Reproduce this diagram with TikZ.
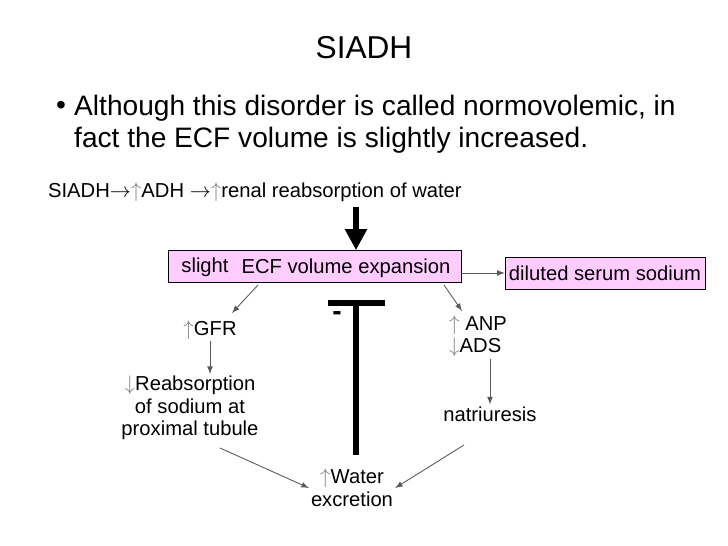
\documentclass[tikz,border=0pt]{standalone}
\usepackage{fontspec}
\setmainfont{Liberation Sans}
\usetikzlibrary{arrows.meta,positioning}
\definecolor{boxpink}{RGB}{255,204,255}
\begin{document}
\begin{tikzpicture}[x=0.02cm,y=-0.02cm, >=latex,
   txt/.style={inner sep=1pt, font=\fontsize{11.5}{12.8}\selectfont, align=center},
   pbox/.style={draw, fill=boxpink, minimum height=0.64cm, inner sep=2pt, font=\fontsize{11.5}{13}\selectfont},
   thin arrow/.style={->, gray!70!black, line width=0.5pt}
   ]
   \useasboundingbox (0,0) rectangle (728,546);
   
   \node (title) at (364,48) {\fontsize{18}{20}\selectfont SIADH};
   \node[anchor=west] (bul) at (50,108) {\fontsize{16}{19}\selectfont\textbullet};
   \node[anchor=west, align=left, font=\fontsize{16}{18.5}\selectfont] (text) at (68,124)
     {Although this disorder is called normovolemic, in\\fact the ECF volume is slightly increased.};
   \node[anchor=west, txt] (cause) at (46,192) {SIADH$\rightarrow$\textcolor{gray}{$\uparrow$}ADH $\rightarrow$\textcolor{gray}{$\uparrow$}renal reabsorption of water};
   
   \node[pbox, minimum width=5.86cm] (ecf) at (314.5,266.5) {};
   \node[txt] (slight) at (205,267) {slight};
   \node[txt] (expan) at (346,268) {ECF volume expansion};
   \node[pbox, minimum width=4cm] (dil) at (605,273) {diluted serum sodium};
   \coordinate (top) at (356,207);
   \draw[-{Triangle[length=12pt,width=12pt]}, line width=3pt] (top) -- (ecf.north -| top);
   \draw[thin arrow] (ecf.east |- dil) -- (dil);
   
   \node[txt] (gfr) at (210,330) {\textcolor{gray}{$\uparrow$}GFR};
   \node[txt, align=left] (anp) at (478,336) {\textcolor{gray}{$\uparrow$} ANP\\\textcolor{gray}{$\downarrow$}ADS};
   \node[txt] (reab) at (190,408) {\textcolor{gray}{$\downarrow$}Reabsorption\\of sodium at\\proximal tubule};
   \node[txt] (natri) at (490,414) {natriuresis};
   \node[txt] (water) at (352,488) {\textcolor{gray}{$\uparrow$}Water\\excretion};
   
   \coordinate (e1) at (258,285);
   \coordinate (e2) at (444,285);
   \draw[thin arrow] (e1) -- (232,313);
   \draw[thin arrow] (e2) -- (462,311);
   \draw[thin arrow] (gfr.south) -- (reab.north -| gfr.south);
   \draw[thin arrow] (anp.south -| natri) -- (natri.north);
   \draw[thin arrow] (220,448) -- (water.west);
   \draw[thin arrow] (464,445) -- (water.east);
   
   % inhibition
   \coordinate (tbot) at (356,455);
   \coordinate (ttop) at (356,303);
   \draw[line width=3.5pt] (tbot) -- (ttop);
   \draw[line width=3.5pt] (328,303) -- (385,303);
   \node[font=\fontsize{16}{18}\selectfont\bfseries] (minus) at (337,316) {-};
\end{tikzpicture}
\end{document}
